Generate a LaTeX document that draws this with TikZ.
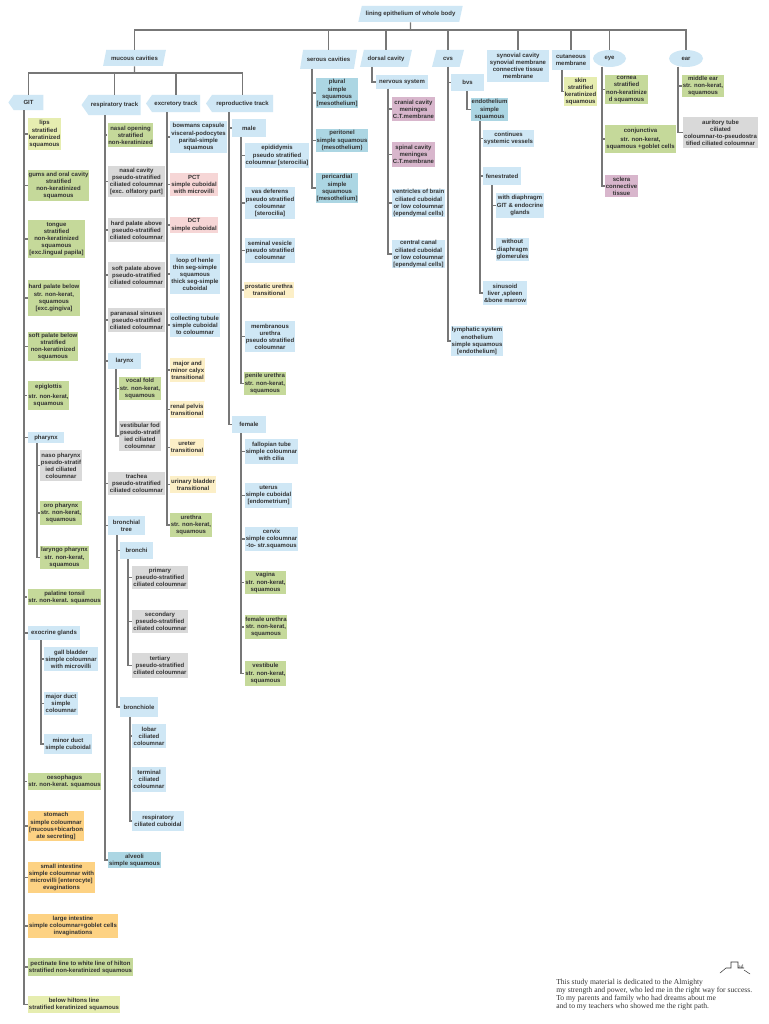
\documentclass[tikz,border=0pt]{standalone}
\usepackage{fontspec}
\setmainfont{Liberation Sans}
\newfontfamily\footfont{Liberation Serif}
\usetikzlibrary{shapes.geometric,shapes.symbols}
\definecolor{cblue}{HTML}{CFE7F5}
\definecolor{cteal}{HTML}{ACD6E3}
\definecolor{cgreen}{HTML}{C5D99A}
\definecolor{cgray}{HTML}{D9D9D9}
\definecolor{cpink}{HTML}{F6D6D6}
\definecolor{cyel}{HTML}{FCEFC7}
\definecolor{corange}{HTML}{FDD283}
\definecolor{clime}{HTML}{E6EDB0}
\definecolor{cpurple}{HTML}{D8B6CC}
\definecolor{cline}{HTML}{777777}
\definecolor{ctext}{HTML}{333333}
\tikzset{
 box/.style={inner sep=0.5pt,align=center,text=ctext,font=\bfseries\fontsize{4.5}{5.3}\selectfont},
 B/.style={fill=cblue},T/.style={fill=cteal},G/.style={fill=cgreen},Y/.style={fill=cyel},
 R/.style={fill=cgray},P/.style={fill=cpink},O/.style={fill=corange},L/.style={fill=clime},
 U/.style={fill=cpurple},
 para/.style={fill=cblue,trapezium,trapezium left angle=65,trapezium right angle=115,trapezium stretches=true},
 sig/.style={fill=cblue,signal,signal to=west,signal pointer angle=110},
 ov/.style={fill=cblue,ellipse},
 ln/.style={draw=cline,line width=0.9pt}
}
\newcommand\bx[7]{\node[box,#6,minimum width={(#3-#1)*0.75pt},minimum height={(#4-#2)*0.75pt}] (#5) at ({(#1+#3)/2},{(#2+#4)/2}) {#7};}
\newcommand\ch[2]{\draw[ln] (#1) |- (#2.west);}
\begin{document}
\begin{tikzpicture}[x=0.75pt,y=-0.75pt]
\useasboundingbox[fill=white] (0,0) rectangle (768,1024);
% top level
\bx{358}{6}{463}{22}{root}{para}{lining epithelium of whole body}
\bx{103}{50}{166}{66}{muc}{para}{mucous cavities}
\bx{300}{50}{357}{69}{ser}{para}{serous cavities}
\bx{360}{50}{412}{67}{dor}{para}{dorsal cavity}
\bx{432}{50}{464}{67}{cvs}{para}{cvs}
\bx{487}{50}{549}{82}{syn}{B}{synovial cavity\\synovial membrane\\connective tissue\\membrane}
\bx{552}{50}{590}{70}{cut}{B}{cutaneous\\membrane}
\bx{593}{50}{626}{67}{eye}{ov}{eye}
\bx{669}{50}{703}{67}{ear}{ov}{ear}
\coordinate (rb) at (410.5,30);
\draw[ln] (root.south) -- (rb);
\foreach \n in {muc,ser,dor,cvs,syn,cut,eye,ear}{\draw[ln] (rb) -| (\n.north);}
% mucous
\bx{11}{95}{46}{110}{git}{sig}{GIT}
\bx{85}{95}{144}{115}{res}{sig}{respiratory track}
\bx{149}{95}{203}{112}{exc}{sig}{excretory track}
\bx{209}{95}{276}{112}{rep}{sig}{reproductive track}
\coordinate (mb) at (134.5,73);
\draw[ln] (muc.south) -- (mb);
\foreach \n in {git,res,exc,rep}{\draw[ln] (mb) -| (\n.north);}
% GIT
\coordinate (gT) at (24,110);
\bx{28}{118}{61}{150}{lips}{L}{lips\\stratified\\keratinized\\squamous}
\bx{28}{170}{89}{201}{gums}{G}{gums and oral cavity\\stratified\\non-keratinized\\squamous}
\bx{28}{220}{85}{258}{tong}{G}{tongue\\stratified\\non-keratinized\\squamous\\{[}exc.lingual papila{]}}
\bx{28}{280}{80}{316}{hpb}{G}{hard palate below\\str. non-kerat,\\squamous\\{[}exc.gingiva{]}}
\bx{28}{332}{78}{361}{spb}{G}{soft palate below\\stratified\\non-keratinized\\squamous}
\bx{28}{381}{69}{410}{epi}{G}{epiglottis\\[2pt]str. non-kerat,\\squamous}
\bx{28}{432}{64}{443}{phar}{B}{pharynx}
\coordinate (phT) at (37,443);
\bx{41}{450}{81}{481}{naso}{R}{naso pharynx\\pseudo-stratif\\ied ciliated\\coloumnar}
\bx{41}{501}{81}{525}{oro}{G}{oro pharynx\\str. non-kerat,\\squamous}
\bx{41}{546}{88}{569}{lary}{G}{laryngo pharynx\\str. non-kerat,\\squamous}
\bx{28}{589}{101}{605}{pal}{G}{palatine tonsil\\str. non-kerat. squamous}
\bx{28}{626}{80}{640}{exo}{B}{exocrine glands}
\coordinate (exT) at (41,640);
\bx{44}{647}{98}{671}{gall}{B}{gall bladder\\simple coloumnar\\with microvilli}
\bx{44}{692}{78}{715}{majd}{B}{major duct\\simple\\coloumnar}
\bx{44}{734}{92}{754}{mind}{B}{minor duct\\simple cuboidal}
\bx{28}{773}{101}{790}{oes}{G}{oesophagus\\str. non-kerat. squamous}
\bx{28}{811}{84}{841}{stom}{O}{stomach\\simple coloumnar\\{[}mucous+bicarbon\\ate secreting{]}}
\bx{28}{862}{95}{893}{smi}{O}{small intestine\\simple coloumnar with\\microvilli {[}enterocyte{]}\\evaginations}
\bx{28}{914}{118}{938}{lai}{O}{large intestine\\simple coloumnar+goblet cells\\invaginations}
\bx{28}{958}{133}{976}{pect}{G}{pectinate line to white line of hilton\\stratified non-keratinized squamous}
\bx{28}{996}{120}{1013}{belo}{L}{below hiltons line\\stratified keratinized squamous}
\foreach \n in {lips,gums,tong,hpb,spb,epi,phar,pal,exo,oes,stom,smi,lai,pect,belo}{\ch{gT}{\n}}
\foreach \n in {naso,oro,lary}{\ch{phT}{\n}}
\foreach \n in {gall,majd,mind}{\ch{exT}{\n}}
% respiratory
\coordinate (rT) at (105,115);
\bx{108}{123}{153}{147}{nop}{G}{nasal opening\\stratified\\non-keratinized}
\bx{108}{166}{165}{197}{nca}{R}{nasal cavity\\pseudo-stratified\\ciliated coloumnar\\{[}exc. olfatory part{]}}
\bx{108}{218}{165}{242}{hpa}{R}{hard palate above\\pseudo-stratified\\ciliated coloumnar}
\bx{108}{262}{165}{288}{spa}{R}{soft palate above\\pseudo-stratified\\ciliated coloumnar}
\bx{108}{308}{165}{332}{para}{R}{paranasal sinuses\\pseudo-stratified\\ciliated coloumnar}
\bx{108}{353}{141}{369}{lar}{B}{larynx}
\coordinate (laT) at (116,369);
\bx{120}{377}{160}{400}{voc}{G}{vocal fold\\str. non-kerat,\\squamous}
\bx{120}{421}{160}{451}{vest}{R}{vestibular fod\\pseudo-stratif\\ied ciliated\\coloumnar}
\bx{108}{472}{165}{495}{trac}{R}{trachea\\pseudo-stratified\\ciliated coloumnar}
\bx{108}{516}{145}{535}{brt}{B}{bronchial\\tree}
\coordinate (btT) at (117,535);
\bx{120}{542}{153}{559}{bri}{B}{bronchi}
\coordinate (biT) at (128,559);
\bx{132}{566}{188}{589}{prim}{R}{primary\\pseudo-stratified\\ciliated coloumnar}
\bx{132}{610}{188}{633}{sec}{R}{secondary\\pseudo-stratified\\ciliated coloumnar}
\bx{132}{653}{188}{678}{ter}{R}{tertiary\\pseudo-stratified\\ciliated coloumnar}
\bx{120}{697}{158}{717}{brl}{B}{bronchiole}
\coordinate (blT) at (130,717);
\bx{132}{724}{166}{748}{lob}{B}{lobar\\ciliated\\coloumnar}
\bx{132}{767}{166}{792}{term}{B}{terminal\\ciliated\\coloumnar}
\bx{132}{811}{184}{831}{resp}{B}{respiratory\\ciliated cuboidal}
\bx{108}{852}{161}{868}{alv}{T}{alveoli\\simple squamous}
\foreach \n in {nop,nca,hpa,spa,para,lar,trac,brt,alv}{\ch{rT}{\n}}
\foreach \n in {voc,vest}{\ch{laT}{\n}}
\foreach \n in {bri,brl}{\ch{btT}{\n}}
\foreach \n in {prim,sec,ter}{\ch{biT}{\n}}
\foreach \n in {lob,term,resp}{\ch{blT}{\n}}
% excretory
\coordinate (eT) at (167,112);
\bx{170}{121}{227}{153}{bow}{B}{bowmans capsule\\visceral-podocytes\\parital-simple\\squamous}
\bx{170}{173}{218}{196}{pct}{P}{PCT\\simple cuboidal\\with microvilli}
\bx{170}{217}{218}{233}{dct}{P}{DCT\\simple cuboidal}
\bx{170}{254}{220}{294}{loop}{B}{loop of henle\\thin seg-simple\\squamous\\thick seg-simple\\cuboidal}
\bx{170}{313}{220}{337}{col}{B}{collecting tubule\\simple cuboidal\\to coloumnar}
\bx{170}{358}{205}{382}{cal}{Y}{major and\\minor calyx\\transitional}
\bx{170}{401}{204}{418}{pel}{Y}{renal pelvis\\transitional}
\bx{170}{439}{204}{456}{ure}{Y}{ureter\\transitional}
\bx{170}{476}{216}{493}{bla}{Y}{urinary bladder\\transitional}
\bx{170}{513}{212}{537}{uth}{G}{urethra\\str. non-kerat,\\squamous}
\foreach \n in {bow,pct,dct,loop,col,cal,pel,ure,bla,uth}{\ch{eT}{\n}}
% reproductive
\coordinate (pT) at (229,112);
\bx{232}{119}{266}{137}{male}{B}{male}
\coordinate (maT) at (241,137);
\bx{245}{143}{309}{168}{epid}{B}{epididymis\\pseudo stratified\\coloumnar {[}sterocilia{]}}
\bx{245}{187}{295}{219}{vas}{B}{vas deferens\\pseudo stratified\\coloumnar\\{[}sterocilia{]}}
\bx{245}{238}{295}{263}{sem}{B}{seminal vesicle\\pseudo stratified\\coloumnar}
\bx{245}{282}{293}{298}{pro}{Y}{prostatic urethra\\transitional}
\bx{245}{321}{295}{352}{mem}{B}{membranous\\urethra\\pseudo stratified\\coloumnar}
\bx{245}{372}{285}{395}{pen}{G}{penile urethra\\str. non-kerat,\\squamous}
\bx{232}{416}{266}{433}{fem}{B}{female}
\coordinate (feT) at (241,433);
\bx{245}{439}{298}{464}{fal}{B}{fallopian tube\\simple coloumnar\\with cilia}
\bx{245}{483}{292}{508}{ute}{B}{uterus\\simple cuboidal\\{[}endometrium{]}}
\bx{245}{527}{298}{551}{cer}{B}{cervix\\simple coloumnar\\-to- str.squamous}
\bx{245}{571}{286}{594}{vag}{G}{vagina\\str. non-kerat,\\squamous}
\bx{245}{615}{287}{639}{fur}{G}{female urethra\\str. non-kerat,\\squamous}
\bx{245}{661}{286}{686}{vesb}{G}{vestibule\\str. non-kerat,\\squamous}
\foreach \n in {male,fem}{\ch{pT}{\n}}
\foreach \n in {epid,vas,sem,pro,mem,pen}{\ch{maT}{\n}}
\foreach \n in {fal,ute,cer,vag,fur,vesb}{\ch{feT}{\n}}
% serous
\coordinate (sT) at (312,69);
\bx{316}{78}{358}{108}{plu}{T}{plural\\simple\\squamous\\{[}mesothelium{]}}
\bx{316}{129}{368}{152}{peri}{T}{peritonel\\simple squamous\\(mesothelium)}
\bx{316}{173}{358}{203}{card}{T}{pericardial\\simple\\squamous\\{[}mesothelium{]}}
\foreach \n in {plu,peri,card}{\ch{sT}{\n}}
% dorsal
\coordinate (dT) at (372,67);
\bx{376}{75}{428}{89}{nerv}{B}{nervous system}
\ch{dT}{nerv}
\coordinate (nT) at (388,89);
\bx{392}{97}{435}{121}{cran}{U}{cranial cavity\\meninges\\C.T.membrane}
\bx{392}{142}{435}{167}{spin}{U}{spinal cavity\\meninges\\C.T.membrane}
\bx{392}{189}{445}{217}{vent}{B}{ventricles of brain\\ciliated cuboidal\\or low coloumnar\\(ependymal cells)}
\bx{392}{240}{445}{268}{cen}{B}{central canal\\ciliated cuboidal\\or low coloumnar\\{[}ependymal cells{]}}
\foreach \n in {cran,spin,vent,cen}{\ch{nT}{\n}}
% cvs
\coordinate (cT) at (448,67);
\bx{451}{74}{484}{91}{bvs}{B}{bvs}
\coordinate (bT) at (467,91);
\bx{471}{98}{508}{121}{endo}{T}{endothelium\\simple\\squamous}
\coordinate (enT) at (480,121);
\bx{483}{130}{534}{147}{cont}{B}{continues\\systemic vessels}
\bx{483}{167}{521}{185}{fen}{B}{fenestrated}
\coordinate (fT) at (492,185);
\bx{496}{193}{544}{218}{wd}{B}{with diaphragm\\GIT \& endocrine\\glands}
\bx{496}{238}{529}{261}{wod}{B}{without\\diaphragm\\glomerules}
\bx{483}{281}{527}{305}{sin}{B}{sinusoid\\liver ,spleen\\\&bone marrow}
\bx{451}{326}{503}{356}{lym}{B}{lymphatic system\\enothelium\\simple squamous\\{[}endothelium{]}}
\foreach \n in {bvs,lym}{\ch{cT}{\n}}
\ch{bT}{endo}
\foreach \n in {cont,fen,sin}{\ch{enT}{\n}}
\foreach \n in {wd,wod}{\ch{fT}{\n}}
% cutaneous
\coordinate (cuT) at (562,70);
\bx{564}{77}{597}{106}{skin}{L}{skin\\stratified\\keratinized\\squamous}
\ch{cuT}{skin}
% eye
\coordinate (eyT) at (602,67);
\bx{605}{75}{648}{104}{corn}{G}{cornea\\stratified\\non-keratinize\\d squamous}
\bx{605}{125}{676}{153}{conj}{G}{conjunctiva\\[2pt]str. non-kerat,\\squamous +goblet cells}
\bx{605}{175}{638}{197}{scl}{U}{sclera\\connective\\tissue}
\foreach \n in {corn,conj,scl}{\ch{eyT}{\n}}
% ear
\coordinate (erT) at (678,67);
\bx{683}{75}{723}{97}{mid}{G}{middle ear\\str. non-kerat,\\squamous}
\bx{683}{117}{758}{148}{aud}{R}{auritory tube\\ciliated\\coloumnar-to-pseudostra\\tified ciliated coloumnar}
\foreach \n in {mid,aud}{\ch{erT}{\n}}
% footer
\node[anchor=north west,inner sep=0pt,align=left,text=ctext,font=\footfont\fontsize{5.7}{6.1}\selectfont] (foot) at (556,979) {This study material is dedicated to the Almighty\\my strength and power, who led me in the right way for success.\\To my parents and family who had dreams about me\\and to my teachers who showed me the right path.};
\draw[draw=ctext,line width=0.4pt] (720,973) -- (726,968) -- (731,968) -- (731,962) -- (738,962) -- (738,968) -- (744,968) (744,970) -- (750,974);
\node[inner sep=0pt,font=\footfont\fontsize{4}{4}\selectfont,text=ctext] (sig) at (741,967) {ad};
\end{tikzpicture}
\end{document}
